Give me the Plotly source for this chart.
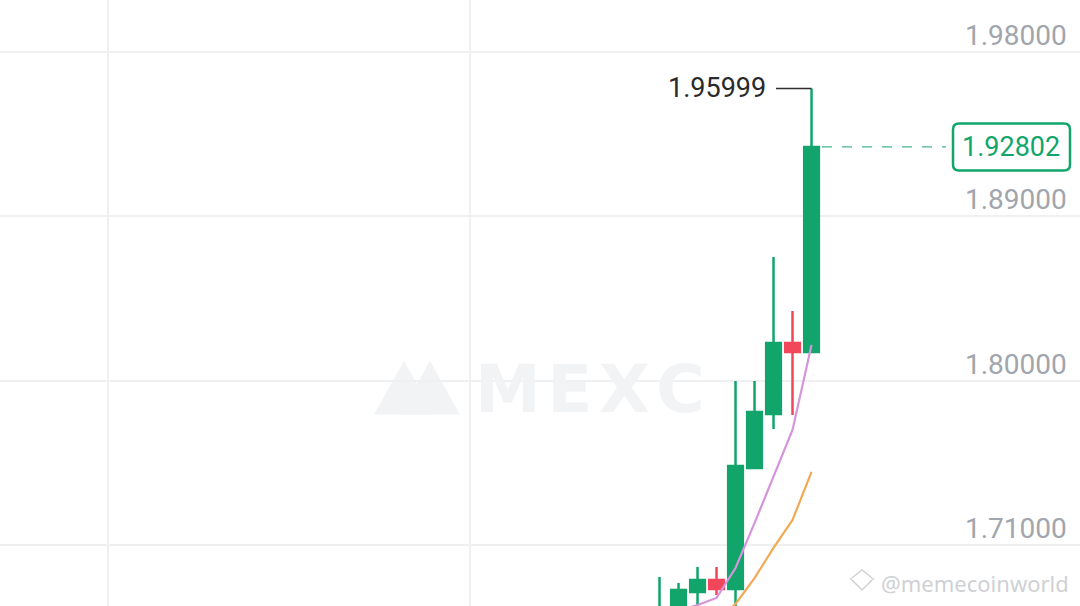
import plotly.graph_objects as go

# candle data (oldest -> newest)
idx = [0, 1, 2, 3, 4, 5, 6, 7, 8]
opens = [1.6680, 1.6720, 1.6843, 1.6908, 1.6859, 1.7522, 1.7817, 1.8206, 1.8157]
highs = [1.6925, 1.6892, 1.6979, 1.6979, 1.7998, 1.7998, 1.8677, 1.8382, 1.95999]
lows = [1.6650, 1.6680, 1.6760, 1.6826, 1.6700, 1.7516, 1.7735, 1.7812, 1.8150]
closes = [1.6740, 1.6854, 1.6908, 1.6859, 1.7533, 1.7828, 1.8206, 1.8157, 1.92802]

# moving averages
ma_fast_idx = [1, 2, 3, 4, 5, 6, 7, 8]
ma_fast = [1.6740, 1.6771, 1.6810, 1.6974, 1.7220, 1.7472, 1.7730, 1.8195]
ma_slow_idx = [3, 4, 5, 6, 7, 8]
ma_slow = [1.6690, 1.6777, 1.6919, 1.7084, 1.7237, 1.7500]

y_ticks = [1.71, 1.80, 1.89, 1.98]
y_tick_text = ["1.71000", "1.80000", "1.89000", "1.98000"]
x_grid = [-29, -10]

high_label = "1.95999"
last_price = 1.92802
last_label = "1.92802"

GREEN = "#12a56b"
RED = "#f2465a"
W, H = 1080, 606
y_range = [1.67659, 2.00848]
x_range = [-34.71, 22.13]


def px(x, y):
    return x / W, 1 - y / H


fig = go.Figure()

fig.add_trace(go.Scatter(x=ma_slow_idx, y=ma_slow, mode="lines",
                         line=dict(color="#f0aa55", width=2.2), hoverinfo="skip"))
fig.add_trace(go.Scatter(x=ma_fast_idx, y=ma_fast, mode="lines",
                         line=dict(color="#d595dc", width=2.2), hoverinfo="skip"))

fig.add_trace(go.Candlestick(
    x=idx, open=opens, high=highs, low=lows, close=closes,
    increasing=dict(line=dict(color=GREEN, width=2.5), fillcolor=GREEN),
    decreasing=dict(line=dict(color=RED, width=2.5), fillcolor=RED),
    whiskerwidth=0,
))

# y tick labels above grid lines
for v, t in zip(y_ticks, y_tick_text):
    fig.add_annotation(x=1, xref="paper", y=v, yref="y", text=t, showarrow=False,
                       xanchor="right", yanchor="bottom", xshift=-11, yshift=-2,
                       font=dict(family="Roboto", size=28, color="#a1a5ac"))

# high marker
fig.add_shape(type="line", xref="x", yref="y", x0=idx[-1] - 1.87, x1=idx[-1],
              y0=highs[-1], y1=highs[-1], line=dict(color="#2d2d2d", width=1.5))
fig.add_annotation(x=idx[-1] - 1.87, y=highs[-1], text=high_label, showarrow=False,
                   xanchor="right", yanchor="middle", xshift=-8, yshift=1,
                   font=dict(family="Roboto", size=27, color="#2a2a2a"))

# last price line + tag
fig.add_shape(type="line", xref="paper", yref="y", x0=822 / W, x1=946 / W,
              y0=last_price, y1=last_price,
              line=dict(color=GREEN, width=1, dash="10px,10px"))
yc = (last_price - y_range[0]) / (y_range[1] - y_range[0])
bx0, bx1 = 953 / W, 1070 / W
by0, by1 = yc - 23.5 / H, yc + 23.5 / H
rx, ry = 6 / W, 6 / H
path = (f"M{bx0 + rx},{by0} L{bx1 - rx},{by0} Q{bx1},{by0} {bx1},{by0 + ry} "
        f"L{bx1},{by1 - ry} Q{bx1},{by1} {bx1 - rx},{by1} L{bx0 + rx},{by1} "
        f"Q{bx0},{by1} {bx0},{by1 - ry} L{bx0},{by0 + ry} Q{bx0},{by0} {bx0 + rx},{by0} Z")
fig.add_shape(type="path", xref="paper", yref="paper", path=path,
              fillcolor="white", line=dict(color=GREEN, width=2.5), layer="above")
fig.add_annotation(x=(bx0 + bx1) / 2, xref="paper", y=last_price, yref="y", text=last_label,
                   showarrow=False, xanchor="center", yanchor="middle", yshift=0,
                   font=dict(family="Roboto", size=27, color=GREEN))

# MEXC watermark
wm = "#f2f3f5"
a = [px(380, 411), px(404, 368), px(428, 411)]
b = [px(406, 411), px(430, 368), px(454, 411)]
for tri in (a, b):
    p = "M{},{} L{},{} L{},{} Z".format(tri[0][0], tri[0][1], tri[1][0], tri[1][1], tri[2][0], tri[2][1])
    fig.add_shape(type="path", xref="paper", yref="paper", path=p, fillcolor=wm,
                  line=dict(color=wm, width=7), layer="below")
fig.add_annotation(x=473 / W, xref="paper", y=1 - 389 / H, yref="paper",
                   text="M\u200aE\u200aX\u200aC",
                   showarrow=False, xanchor="left", yanchor="middle",
                   font=dict(family="DejaVu Sans", size=66, color=wm, weight=700))

# bottom-right watermark
fig.add_annotation(x=1071 / W, xref="paper", y=1 - 583 / H, yref="paper", text="@memecoinworld",
                   showarrow=False, xanchor="right", yanchor="middle",
                   font=dict(family="Noto Sans", size=22, color="#cfd1d4"))
ic = [px(850, 578), px(862, 590), px(874, 578)]
fig.add_shape(type="path", xref="paper", yref="paper",
              path="M{},{} L{},{} L{},{}".format(ic[0][0], ic[0][1], ic[1][0], ic[1][1], ic[2][0], ic[2][1]),
              line=dict(color="#cfd1d4", width=1.5))
ic2 = [px(852, 578), px(862, 570), px(872, 578)]
fig.add_shape(type="path", xref="paper", yref="paper",
              path="M{},{} L{},{} L{},{}".format(ic2[0][0], ic2[0][1], ic2[1][0], ic2[1][1], ic2[2][0], ic2[2][1]),
              line=dict(color="#cfd1d4", width=1.5))

fig.update_layout(
    width=W, height=H, margin=dict(l=0, r=0, t=0, b=0),
    paper_bgcolor="white", plot_bgcolor="white", showlegend=False,
    boxgap=0.22, boxgroupgap=0.01,
    xaxis=dict(range=x_range, tickvals=x_grid, showticklabels=False, showgrid=True,
               gridcolor="#eff0f2", gridwidth=2, zeroline=False, rangeslider=dict(visible=False)),
    yaxis=dict(range=y_range, tickvals=y_ticks, showticklabels=False, showgrid=True,
               gridcolor="#eff0f2", gridwidth=2, zeroline=False, side="right"),
)

# page has a default 8px body margin; drop it so the figure fills the window
fig.write_html("out.html", config={"displayModeBar": False},
               post_script="document.body.style.margin='0';")
